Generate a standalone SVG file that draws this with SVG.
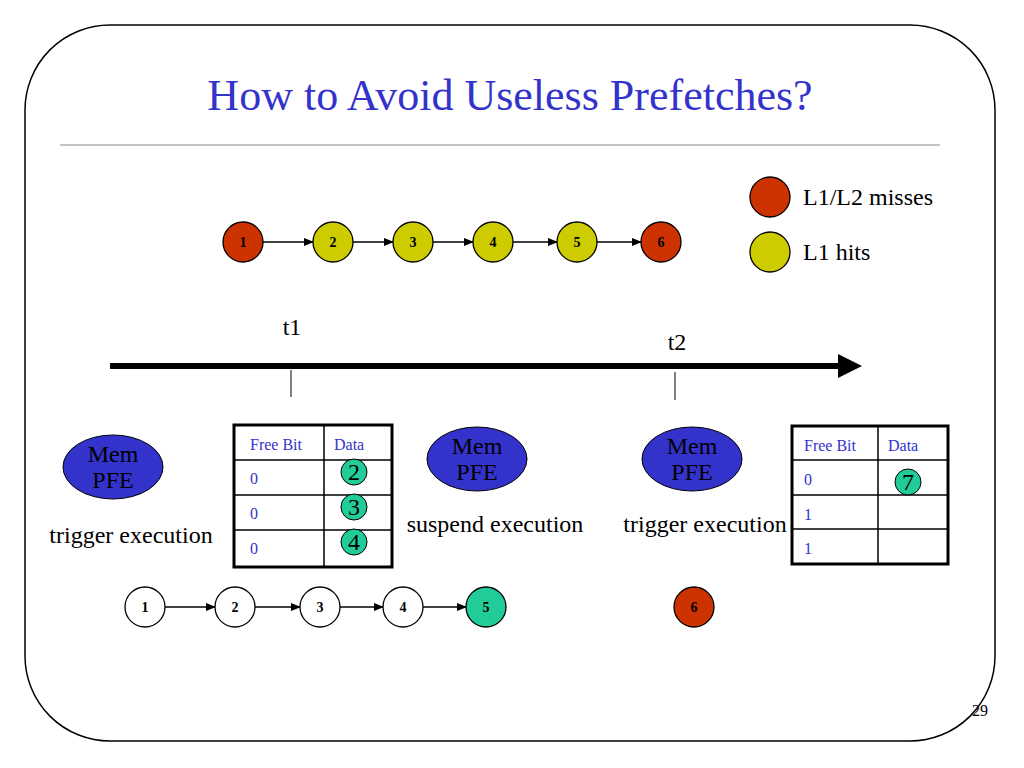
<svg xmlns="http://www.w3.org/2000/svg" width="1024" height="768" viewBox="0 0 1024 768">
<style>
text{font-family:"Liberation Serif",serif}
.n{stroke:#000;stroke-width:1.3}
.nl{font-size:14px;font-weight:bold;text-anchor:middle}
.c{stroke:#000;stroke-width:1.5;marker-end:url(#a)}
.tb{fill:none;stroke:#000;stroke-width:1.5}
.tt{font-size:16px;fill:#3333CC}
.big{font-size:24px}
.e{fill:#3333CC;stroke:#000;stroke-width:1}
.g{fill:#22CC99;stroke:#000;stroke-width:1}
</style>
<defs><marker id="a" markerWidth="10" markerHeight="8" refX="9" refY="4" orient="auto" markerUnits="userSpaceOnUse"><path d="M0,0L10,4L0,8z"/></marker></defs>
<rect width="1024" height="768" fill="#fff"/>
<rect x="25" y="25" width="970" height="716" rx="85" fill="none" stroke="#000" stroke-width="1.5"/>
<text x="510" y="110" font-size="44" fill="#3333CC" text-anchor="middle">How to Avoid Useless Prefetches?</text>
<line x1="60" y1="145" x2="940" y2="145" stroke="#888" stroke-width="1.2"/>
<g id="connectors">
<line class="c" x1="263" y1="242" x2="313" y2="242"/>
<line class="c" x1="353" y1="242" x2="393" y2="242"/>
<line class="c" x1="433" y1="242" x2="473" y2="242"/>
<line class="c" x1="513" y1="242" x2="557" y2="242"/>
<line class="c" x1="597" y1="242" x2="641" y2="242"/>
<line class="c" x1="165" y1="607" x2="215" y2="607"/>
<line class="c" x1="255" y1="607" x2="300" y2="607"/>
<line class="c" x1="340" y1="607" x2="383" y2="607"/>
<line class="c" x1="423" y1="607" x2="466" y2="607"/>
</g>
<g id="top-chain">
<circle class="n" cx="243" cy="242" r="20" fill="#CC3300"/><text class="nl" x="243" y="247">1</text>
<circle class="n" cx="333" cy="242" r="20" fill="#CCCC00"/><text class="nl" x="333" y="247">2</text>
<circle class="n" cx="413" cy="242" r="20" fill="#CCCC00"/><text class="nl" x="413" y="247">3</text>
<circle class="n" cx="493" cy="242" r="20" fill="#CCCC00"/><text class="nl" x="493" y="247">4</text>
<circle class="n" cx="577" cy="242" r="20" fill="#CCCC00"/><text class="nl" x="577" y="247">5</text>
<circle class="n" cx="661" cy="242" r="20" fill="#CC3300"/><text class="nl" x="661" y="247">6</text>
</g>
<g id="legend">
<circle class="n" cx="770" cy="197" r="20" fill="#CC3300"/><text class="big" x="803" y="205">L1/L2 misses</text>
<circle class="n" cx="770" cy="252" r="20" fill="#CCCC00"/><text class="big" x="803" y="260">L1 hits</text>
</g>
<g id="timeline">
<line x1="110" y1="366" x2="842" y2="366" stroke="#000" stroke-width="6"/>
<path d="M838,354L862,366L838,378z"/>
<line x1="291" y1="370" x2="291" y2="397" stroke="#000"/><text class="big" x="292" y="335" text-anchor="middle">t1</text>
<line x1="675" y1="372" x2="675" y2="400" stroke="#000"/><text class="big" x="677" y="350" text-anchor="middle">t2</text>
</g>
<g id="pfe1"><ellipse class="e" cx="113" cy="467" rx="50" ry="32"/><text class="big" x="113" y="462" text-anchor="middle">Mem</text><text class="big" x="113" y="488" text-anchor="middle">PFE</text>
<text class="big" x="131" y="543" text-anchor="middle">trigger execution</text></g>
<g id="pfe2"><ellipse class="e" cx="477" cy="459" rx="50" ry="32"/><text class="big" x="477" y="454" text-anchor="middle">Mem</text><text class="big" x="477" y="480" text-anchor="middle">PFE</text>
<text class="big" x="495" y="532" text-anchor="middle">suspend execution</text></g>
<g id="pfe3"><ellipse class="e" cx="692" cy="459" rx="50" ry="32"/><text class="big" x="692" y="454" text-anchor="middle">Mem</text><text class="big" x="692" y="480" text-anchor="middle">PFE</text>
<text class="big" x="705" y="532" text-anchor="middle">trigger execution</text></g>
<g id="table1">
<rect x="234" y="425" width="158" height="142" fill="#fff" stroke="#000" stroke-width="3"/>
<path class="tb" d="M324,425V567M234,460H392M234,495H392M234,530H392"/>
<text class="tt" x="250" y="450">Free Bit</text><text class="tt" x="334" y="450">Data</text>
<text class="tt" x="250" y="484">0</text><text class="tt" x="250" y="519">0</text><text class="tt" x="250" y="554">0</text>
<circle class="g" cx="354" cy="472" r="13"/><text class="big" x="354" y="480" text-anchor="middle">2</text>
<circle class="g" cx="354" cy="507" r="13"/><text class="big" x="354" y="515" text-anchor="middle">3</text>
<circle class="g" cx="354" cy="542" r="13"/><text class="big" x="354" y="550" text-anchor="middle">4</text>
</g>
<g id="table2">
<rect x="792" y="426" width="156" height="138" fill="#fff" stroke="#000" stroke-width="3"/>
<path class="tb" d="M878,426V564M792,460H948M792,495H948M792,529H948"/>
<text class="tt" x="804" y="451">Free Bit</text><text class="tt" x="888" y="451">Data</text>
<text class="tt" x="804" y="485">0</text><text class="tt" x="804" y="520">1</text><text class="tt" x="804" y="554">1</text>
<circle class="g" cx="908" cy="482" r="13"/><text class="big" x="908" y="490" text-anchor="middle">7</text>
</g>
<g id="bottom-chain">
<circle class="n" cx="145" cy="607" r="20" fill="#fff"/><text class="nl" x="145" y="612">1</text>
<circle class="n" cx="235" cy="607" r="20" fill="#fff"/><text class="nl" x="235" y="612">2</text>
<circle class="n" cx="320" cy="607" r="20" fill="#fff"/><text class="nl" x="320" y="612">3</text>
<circle class="n" cx="403" cy="607" r="20" fill="#fff"/><text class="nl" x="403" y="612">4</text>
<circle class="n" cx="486" cy="607" r="20" fill="#22CC99"/><text class="nl" x="486" y="612">5</text>
<circle class="n" cx="694" cy="607" r="20" fill="#CC3300"/><text class="nl" x="694" y="612">6</text>
</g>
<text x="980" y="716" font-size="16" text-anchor="middle">29</text>
</svg>
